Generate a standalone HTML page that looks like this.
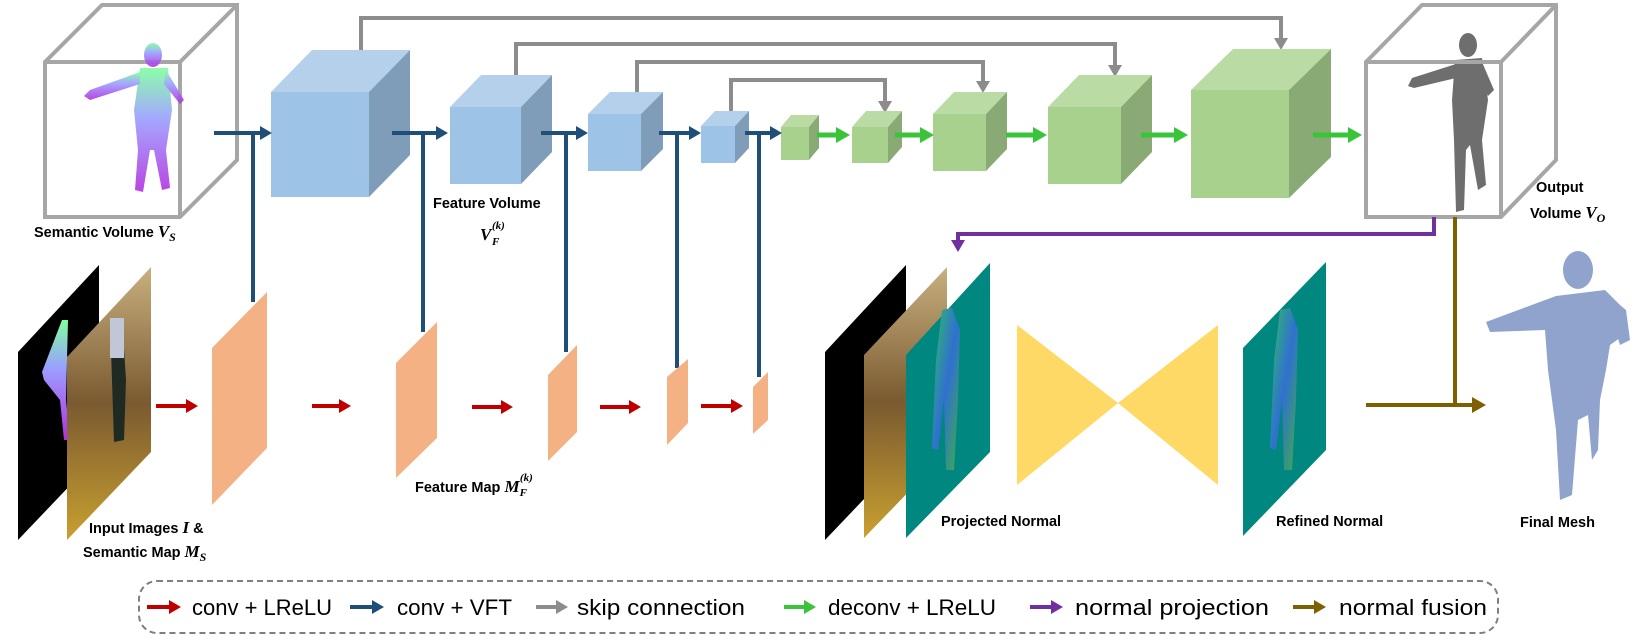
<!DOCTYPE html>
<html><head><meta charset="utf-8"><style>
html,body{margin:0;padding:0;background:#fff;}
svg{display:block;}
.lb{font-family:"Liberation Sans",sans-serif;font-weight:bold;font-size:14.5px;fill:#000;}
.lg{font-family:"Liberation Sans",sans-serif;font-size:22px;fill:#000;}
.it{font-family:"Liberation Serif",serif;font-style:italic;font-weight:bold;}
</style></head><body>
<svg width="1637" height="641" viewBox="0 0 1637 641" xmlns="http://www.w3.org/2000/svg">
<defs>
<linearGradient id="rb" x1="0" y1="0" x2="0" y2="1">
<stop offset="0" stop-color="#7fffa0"/><stop offset="0.4" stop-color="#9aa0ff"/><stop offset="1" stop-color="#b030e0"/></linearGradient>
<linearGradient id="ph" x1="0" y1="0" x2="0" y2="1">
<stop offset="0" stop-color="#c8b080"/><stop offset="0.5" stop-color="#7a5a30"/><stop offset="1" stop-color="#c9a030"/></linearGradient>
<linearGradient id="nm" x1="0" y1="0" x2="1" y2="1">
<stop offset="0" stop-color="#30c060"/><stop offset="0.5" stop-color="#3070d0"/><stop offset="1" stop-color="#40b040"/></linearGradient>
</defs>

<!-- skip connections -->
<g fill="none" stroke="#8c8c8c" stroke-width="4">
<polyline points="361,50 361,18 1281,18 1281,40"/>
<polyline points="516,75 516,44 1115,44 1115,67"/>
<polyline points="637,92 637,62 983,62 983,83"/>
<polyline points="731,111 731,80 885,80 885,103"/>
</g>
<g fill="#8c8c8c">
<polygon points="1274,38 1288,38 1281,50"/>
<polygon points="1108,65 1122,65 1115,77"/>
<polygon points="976,81 990,81 983,93"/>
<polygon points="878,101 892,101 885,113"/>
</g>

<!-- semantic volume box -->
<g fill="none" stroke="#a6a6a6" stroke-width="4">
<polygon points="102,5 237,5 237,160 180,217 45,217 45,62"/>
<polyline points="45,62 180,62 237,5"/><line x1="180" y1="62" x2="180" y2="217"/>
</g>
<g fill="url(#rb)" opacity="0.9">
<ellipse cx="153" cy="55" rx="9" ry="12"/>
<path d="M140,68 L168,68 L172,110 L166,150 L170,188 L162,190 L154,150 L150,150 L143,192 L135,190 L138,150 L134,110 Z"/>
<path d="M140,72 L90,90 L84,96 L90,100 L140,84 Z"/>
<path d="M166,70 L184,100 L180,104 L164,84 Z"/>
</g>

<!-- blue cubes -->
<g>
<polygon points="271,92 312,50 410,50 369,92" fill="#b4d0eb"/><polygon points="369,92 410,50 410,155 369,197" fill="#7f9db9"/><rect x="271" y="92" width="98" height="105" fill="#9dc3e6"/>
<polygon points="450,107 481,75 552,75 521,107" fill="#b4d0eb"/><polygon points="521,107 552,75 552,152 521,184" fill="#7f9db9"/><rect x="450" y="107" width="71" height="77" fill="#9dc3e6"/>
<polygon points="588,114 610,92 663,92 641,114" fill="#b4d0eb"/><polygon points="641,114 663,92 663,149 641,171" fill="#7f9db9"/><rect x="588" y="114" width="53" height="57" fill="#9dc3e6"/>
<polygon points="701,126 715,111 749,111 735,126" fill="#b4d0eb"/><polygon points="735,126 749,111 749,148 735,163" fill="#7f9db9"/><rect x="701" y="126" width="34" height="37" fill="#9dc3e6"/>
</g>
<!-- green cubes -->
<g>
<polygon points="781,127 791,115 819,115 809,127" fill="#bbdba5"/><polygon points="809,127 819,115 819,148 809,160" fill="#8aaa75"/><rect x="781" y="127" width="28" height="33" fill="#a9d18e"/>
<polygon points="852,127 866,111 902,111 888,127" fill="#bbdba5"/><polygon points="888,127 902,111 902,147 888,163" fill="#8aaa75"/><rect x="852" y="127" width="36" height="36" fill="#a9d18e"/>
<polygon points="933,114 954,92 1007,92 986,114" fill="#bbdba5"/><polygon points="986,114 1007,92 1007,149 986,171" fill="#8aaa75"/><rect x="933" y="114" width="53" height="57" fill="#a9d18e"/>
<polygon points="1048,107 1079,75 1152,75 1121,107" fill="#bbdba5"/><polygon points="1121,107 1152,75 1152,152 1121,184" fill="#8aaa75"/><rect x="1048" y="107" width="73" height="77" fill="#a9d18e"/>
<polygon points="1191,90 1233,49 1331,49 1289,90" fill="#bbdba5"/><polygon points="1289,90 1331,49 1331,157 1289,198" fill="#8aaa75"/><rect x="1191" y="90" width="98" height="108" fill="#a9d18e"/>
</g>

<!-- output volume -->
<g fill="#6e6e6e">
<ellipse cx="1468" cy="45" rx="9" ry="12"/>
<path d="M1455,60 L1482,58 L1488,100 L1482,140 L1486,185 L1478,190 L1470,145 L1466,150 L1464,210 L1456,212 L1454,140 L1452,100 Z"/>
<path d="M1456,64 L1412,78 L1408,86 L1414,88 L1456,78 Z"/>
<path d="M1482,62 L1494,90 L1488,96 L1478,75 Z"/>
</g>
<g fill="none" stroke="#a6a6a6" stroke-width="4">
<polygon points="1422,5 1556,5 1556,160 1501,217 1366,217 1366,62"/>
<polyline points="1366,62 1501,62 1556,5"/><line x1="1501" y1="62" x2="1501" y2="217"/>
</g>

<!-- blue arrows -->
<g stroke="#1f4e79" stroke-width="4" fill="none">
<line x1="214" y1="133" x2="262" y2="133"/><line x1="392" y1="133" x2="438" y2="133"/>
<line x1="541" y1="133" x2="578" y2="133"/><line x1="659" y1="133" x2="691" y2="133"/>
<line x1="745" y1="133" x2="772" y2="133"/>
<line x1="253" y1="133" x2="253" y2="302"/><line x1="423" y1="133" x2="423" y2="332"/>
<line x1="566" y1="133" x2="566" y2="352"/><line x1="677" y1="133" x2="677" y2="368"/>
<line x1="759" y1="133" x2="759" y2="377"/>
</g>
<g fill="#1f4e79">
<polygon points="260,126 272,133 260,140"/><polygon points="436,126 448,133 436,140"/>
<polygon points="576,126 588,133 576,140"/><polygon points="689,126 701,133 689,140"/>
<polygon points="770,126 782,133 770,140"/>
</g>
<!-- green arrows -->
<g stroke="#3ac43a" stroke-width="5"><line x1="817" y1="135" x2="838" y2="135"/><line x1="895" y1="135" x2="922" y2="135"/>
<line x1="1006" y1="135" x2="1035" y2="135"/><line x1="1141" y1="135" x2="1176" y2="135"/><line x1="1313" y1="135" x2="1350" y2="135"/></g>
<g fill="#3ac43a"><polygon points="836,127 850,135 836,143"/><polygon points="920,127 934,135 920,143"/>
<polygon points="1033,127 1047,135 1033,143"/><polygon points="1174,127 1188,135 1174,143"/><polygon points="1348,127 1362,135 1348,143"/></g>

<!-- labels top -->
<text class="lb" x="34" y="237">Semantic Volume <tspan class="it" font-size="17">V</tspan><tspan class="it" font-size="12" dy="4">S</tspan></text>
<text class="lb" x="433" y="208">Feature Volume</text>
<text x="480" y="240" class="it" font-size="17">V</text><text x="492" y="245" class="it" font-size="11">F</text><text x="492" y="229" class="it" font-size="11">(k)</text>
<text class="lb" x="1536" y="192">Output</text>
<text class="lb" x="1530" y="218">Volume <tspan class="it" font-size="17">V</tspan><tspan class="it" font-size="12" dy="4">O</tspan></text>

<!-- purple -->
<polyline points="1434,217 1434,234 958,234 958,242" fill="none" stroke="#7030a0" stroke-width="4"/>
<polygon points="951,240 965,240 958,252" fill="#7030a0"/>
<!-- brown -->
<polyline points="1455,217 1455,405" fill="none" stroke="#7f6000" stroke-width="4"/>
<line x1="1366" y1="405" x2="1474" y2="405" stroke="#7f6000" stroke-width="4"/>
<polygon points="1472,397 1486,405 1472,413" fill="#7f6000"/>

<!-- input images -->
<polygon points="18,352 99,265 99,455 18,540" fill="#000"/>
<path d="M62,320 L68,320 L66,400 L70,440 L64,440 L60,400 L44,380 L42,372 Z" fill="url(#rb)"/>
<polygon points="67,357 151,267 151,452 67,540" fill="url(#ph)"/>
<path d="M110,320 L122,318 L126,380 L124,440 L114,442 L112,380 Z" fill="#1e2a22"/>
<rect x="110" y="318" width="14" height="40" fill="#c0c8d8"/>
<!-- orange maps -->
<g fill="#f4b183">
<polygon points="212,348 267,292 267,448 212,505"/>
<polygon points="396,363 437,322 437,438 396,478"/>
<polygon points="548,375 577,345 577,432 548,461"/>
<polygon points="667,377 688,359 688,423 667,445"/>
<polygon points="753,387 768,372 768,420 753,434"/>
</g>
<!-- red arrows -->
<g stroke="#c00000" stroke-width="4"><line x1="156" y1="406" x2="188" y2="406"/><line x1="312" y1="406" x2="341" y2="406"/>
<line x1="472" y1="407" x2="503" y2="407"/><line x1="600" y1="407" x2="631" y2="407"/><line x1="701" y1="406" x2="733" y2="406"/></g>
<g fill="#c00000"><polygon points="186,399 198,406 186,413"/><polygon points="339,399 351,406 339,413"/>
<polygon points="501,400 513,407 501,414"/><polygon points="629,400 641,407 629,414"/><polygon points="731,399 743,406 731,413"/></g>
<text class="lb" x="415" y="492">Feature Map <tspan class="it" font-size="17">M</tspan><tspan class="it" font-size="11" dy="4">F</tspan><tspan class="it" font-size="11" dx="-7" dy="-15">(k)</tspan></text>
<text class="lb" x="89" y="533">Input Images <tspan class="it" font-size="17">I</tspan> &amp;</text>
<text class="lb" x="83" y="557">Semantic Map <tspan class="it" font-size="17">M</tspan><tspan class="it" font-size="12" dy="4">S</tspan></text>

<!-- projected normal stack -->
<polygon points="825,352 906,265 906,455 825,540" fill="#000"/>
<polygon points="864,355 947,267 947,452 864,538" fill="url(#ph)"/>
<polygon points="906,355 990,263 990,452 906,538" fill="#00877f"/>
<path d="M942,310 L952,308 L960,330 L958,400 L954,470 L946,470 L944,400 L938,450 L932,448 L936,360 Z" fill="url(#nm)"/>
<!-- bowtie -->
<polygon points="1017,325 1118,403 1017,485" fill="#ffd966"/>
<polygon points="1218,325 1118,403 1218,485" fill="#ffd966"/>
<!-- refined -->
<polygon points="1243,348 1326,262 1326,450 1243,536" fill="#00877f"/>
<path d="M1280,310 L1290,308 L1298,330 L1296,400 L1292,470 L1284,470 L1282,400 L1276,450 L1270,448 L1274,360 Z" fill="url(#nm)"/>
<text class="lb" x="941" y="526">Projected Normal</text>
<text class="lb" x="1276" y="526">Refined  Normal</text>

<!-- final mesh -->
<g fill="#8fa3cc">
<ellipse cx="1578" cy="270" rx="15" ry="19"/>
<path d="M1556,296 L1605,290 L1620,305 L1624,335 L1610,345 L1606,370 L1600,400 L1598,450 L1592,460 L1588,415 L1578,420 L1572,495 L1560,500 L1556,430 L1548,370 L1545,330 L1490,332 L1486,322 Z"/>
<path d="M1604,292 L1626,310 L1630,340 L1620,345 Z"/>
</g>
<text class="lb" x="1520" y="527">Final Mesh</text>

<!-- legend -->
<rect x="139" y="581" width="1359" height="52" rx="18" ry="18" fill="none" stroke="#7f7f7f" stroke-width="2" stroke-dasharray="6,4"/>
<g stroke-width="4">
<line x1="147" y1="607" x2="171" y2="607" stroke="#c00000"/><polygon points="169,600 181,607 169,614" fill="#c00000"/>
<line x1="350" y1="607" x2="374" y2="607" stroke="#1f4e79"/><polygon points="372,600 384,607 372,614" fill="#1f4e79"/>
<line x1="536" y1="607" x2="558" y2="607" stroke="#8c8c8c"/><polygon points="556,600 568,607 556,614" fill="#8c8c8c"/>
<line x1="784" y1="607" x2="806" y2="607" stroke="#3ac43a"/><polygon points="804,600 816,607 804,614" fill="#3ac43a"/>
<line x1="1030" y1="607" x2="1053" y2="607" stroke="#7030a0"/><polygon points="1051,600 1063,607 1051,614" fill="#7030a0"/>
<line x1="1293" y1="607" x2="1316" y2="607" stroke="#7f6000"/><polygon points="1314,600 1326,607 1314,614" fill="#7f6000"/>
</g>
<text class="lg" x="192" y="615" textLength="140" lengthAdjust="spacingAndGlyphs">conv + LReLU</text>
<text class="lg" x="397" y="615" textLength="115" lengthAdjust="spacingAndGlyphs">conv + VFT</text>
<text class="lg" x="577" y="615" textLength="168" lengthAdjust="spacingAndGlyphs">skip connection</text>
<text class="lg" x="828" y="615" textLength="168" lengthAdjust="spacingAndGlyphs">deconv + LReLU</text>
<text class="lg" x="1075" y="615" textLength="194" lengthAdjust="spacingAndGlyphs">normal projection</text>
<text class="lg" x="1339" y="615" textLength="148" lengthAdjust="spacingAndGlyphs">normal fusion</text>
</svg>
</body></html>
